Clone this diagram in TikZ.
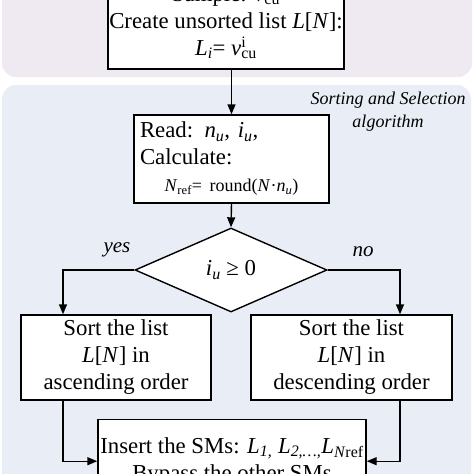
\documentclass[tikz,border=0pt]{standalone}
\usepackage{fontspec}
\setmainfont{Liberation Serif}
\usetikzlibrary{shapes.geometric,arrows.meta,calc}
\definecolor{pinkbg}{RGB}{239,233,242}
\definecolor{bluebg}{RGB}{233,238,246}
\begin{document}
\begin{tikzpicture}[x=1pt,y=-1pt,
  box/.style={draw, line width=1.4pt, fill=white, inner sep=0pt},
  arr/.style={line width=1.4pt, -{Triangle[length=10pt,width=8pt]}},
  txt/.style={font=\fontsize{22.8}{27}\selectfont}]
\useasboundingbox (0,0) rectangle (474,474);
\clip (0,0) rectangle (474,474);
\fill[white] (0,0) rectangle (474,474);
\fill[pinkbg, rounded corners=14pt] (2,-40) rectangle (472,77);
\fill[bluebg, rounded corners=14pt] (2,85) rectangle (471,540);

\node[box, txt, minimum width=236pt, minimum height=94pt, align=center] (top) at (226,22)
  {Sample: \textit{v}\textsubscript{cu}\\Create unsorted list \textit{L}[\textit{N}]:\\\textit{L}\textsubscript{\textit{i}}= \textit{v}\rlap{\textsuperscript{i}}\textsubscript{cu}};

\node[box, txt, minimum width=195pt, minimum height=88pt, text width=183pt, align=left] (read) at (231.5,159)
  {Read: \textit{n}\textsubscript{\textit{u}}, \textit{i}\textsubscript{\textit{u}},\\Calculate:\\\makebox[183pt][c]{\fontsize{18}{25}\selectfont\textit{N}\textsubscript{ref}= round(\textit{N}·\textit{n}\textsubscript{\textit{u}})}};

\node[draw, line width=1.4pt, fill=white, diamond, minimum width=192pt, minimum height=84pt, inner sep=0pt, txt] (dia) at (231,270)
  {\textit{i}\textsubscript{\textit{u}} ≥ 0};

\node[box, txt, minimum width=190pt, minimum height=85pt, align=center] (sl) at (116,357.5)
  {Sort the list\\\textit{L}[\textit{N}] in\\ascending order};
\node[box, txt, minimum width=201pt, minimum height=85pt, align=center] (sr) at (351.5,357.5)
  {Sort the list\\\textit{L}[\textit{N}] in\\descending order};

\node[box, txt, minimum width=268pt, minimum height=83pt, align=center, anchor=north] (bot) at (232,419)
  {Insert the SMs: \textit{L}\textsubscript{\textit{1,}} \textit{L}\textsubscript{\textit{2,…,}}\textit{L}\textsubscript{\textit{N}ref}\\Bypass the other SMs};

\coordinate (lx) at (63,270);
\coordinate (rx) at (400,270);

\draw[arr] (read.north |- top.south) -- (read.north);
\draw[arr] (read.south) -- (dia.north);
\draw[arr] (dia.west) -- (lx) -- (lx |- sl.north);
\draw[arr] (dia.east) -- (rx) -- (rx |- sr.north);
\draw[arr] (lx |- sl.south) |- (bot.west);
\draw[arr] (rx |- sr.south) |- (bot.east);

\node[font=\fontsize{21}{25}\selectfont\itshape] (yes) at (117,250) {yes};
\node[font=\fontsize{21}{25}\selectfont\itshape] (no) at (363,252) {no};
\node[font=\fontsize{18}{23}\selectfont\itshape, align=center] (title) at (388,111.5)
  {Sorting and Selection\\algorithm};
\end{tikzpicture}
\end{document}
